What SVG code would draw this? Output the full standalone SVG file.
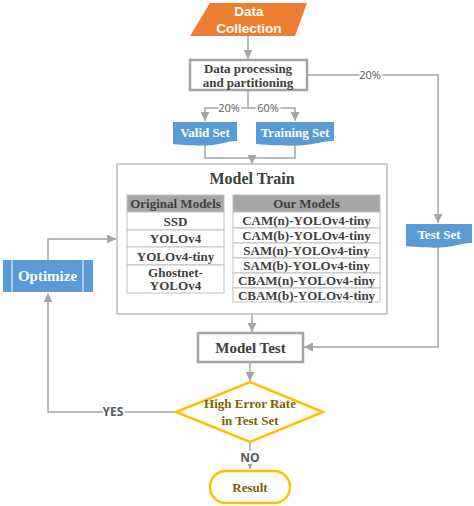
<svg xmlns="http://www.w3.org/2000/svg" width="474" height="506" viewBox="0 0 474 506">
<style>
.serif{font-family:"Liberation Serif","Times New Roman",serif;font-weight:bold;text-anchor:middle}
.dk{fill:#404040}
.wt{fill:#ffffff}
.br{fill:#7F6000}
.lbl{font-family:"Open Sans","Liberation Sans",sans-serif;font-size:11px;fill:#595959;text-anchor:middle;paint-order:stroke;stroke:#fff;stroke-width:4px}
.box{fill:#fff;stroke:#A5A5A5;stroke-width:2.5}
.cell{fill:#fff;stroke:#BFBFBF;stroke-width:1}
.hdr{fill:#A6A6A6;stroke:#BFBFBF;stroke-width:1}
.doc{fill:#5B9BD5}
.con{fill:none;stroke:#A5A5A5;stroke-width:1.5}
.dc{font-family:"Liberation Sans",Arial,sans-serif;font-weight:bold;font-size:13.5px;fill:#fff;text-anchor:middle}
</style>
<defs>
<marker id="ah" viewBox="0 0 10 10" refX="10" refY="5" markerWidth="9" markerHeight="9" markerUnits="userSpaceOnUse" orient="auto">
<path d="M0,0 L10,5 L0,10 z" fill="#A5A5A5"/>
</marker>
</defs>

<g id="connectors">
<path class="con" d="M248,36 V59" marker-end="url(#ah)"/>
<path class="con" d="M248,90 V108 H205 V121" marker-end="url(#ah)"/>
<path class="con" d="M248,108 H295 V121" marker-end="url(#ah)"/>
<path class="con" d="M307,75 H438 V223" marker-end="url(#ah)"/>
<path class="con" d="M205,144 V158 H295 V142"/>
<path class="con" d="M252,158 V164" marker-end="url(#ah)"/>
<path class="con" d="M252,314 V332" marker-end="url(#ah)"/>
<path class="con" d="M438,246 V347 H304" marker-end="url(#ah)"/>
<path class="con" d="M250,362 V381" marker-end="url(#ah)"/>
<path class="con" d="M250,442 V469" marker-end="url(#ah)"/>
<path class="con" d="M176,412 H48 V293" marker-end="url(#ah)"/>
<path class="con" d="M48,260 V239 H116" marker-end="url(#ah)"/>
<text class="lbl" x="229" y="112">20%</text>
<text class="lbl" x="268" y="112">60%</text>
<text class="lbl" x="370" y="79">20%</text>
<text class="lbl" x="250" y="462" style="font-weight:bold;font-size:12px">NO</text>
<text class="lbl" x="113" y="416" style="font-weight:bold;font-size:12px">YES</text>
</g>

<g id="data-collection">
<polygon points="210,3 307,3 295,36 190,36" fill="#ED7D31"/>
<text class="dc" x="249" y="16">Data</text>
<text class="dc" x="249" y="32.5">Collection</text>
</g>

<g id="data-processing">
<rect class="box" x="190" y="60" width="117" height="30"/>
<text class="serif dk" x="248" y="73" font-size="13">Data processing</text>
<text class="serif dk" x="248" y="87" font-size="13">and partitioning</text>
</g>

<g id="valid-set">
<path class="doc" d="M173,122 H237 V141 C221,141 221,149 173,144 Z"/>
<text class="serif wt" x="205" y="137" font-size="13">Valid Set</text>
</g>

<g id="training-set">
<path class="doc" d="M256,122 H334 V141 C315,141 315,149 256,144 Z"/>
<text class="serif wt" x="295" y="137" font-size="13">Training Set</text>
</g>

<g id="test-set">
<path class="doc" d="M406,224 H472 V243 C455,243 455,251 406,246 Z"/>
<text class="serif wt" x="439" y="239" font-size="13">Test Set</text>
</g>

<g id="model-train">
<rect x="117" y="164" width="270" height="150" fill="#fff" stroke="#BFBFBF" stroke-width="1.5"/>
<text class="serif dk" x="252" y="184" font-size="16">Model Train</text>
<rect class="hdr" x="127" y="195" width="97" height="17"/>
<text class="serif dk" x="175.5" y="208" font-size="13">Original Models</text>
<rect class="cell" x="127" y="212" width="97" height="18"/>
<text class="serif dk" x="175.5" y="225.5" font-size="13">SSD</text>
<rect class="cell" x="127" y="230" width="97" height="17"/>
<text class="serif dk" x="175.5" y="243" font-size="13">YOLOv4</text>
<rect class="cell" x="127" y="247" width="97" height="18"/>
<text class="serif dk" x="175.5" y="260.5" font-size="13">YOLOv4-tiny</text>
<rect class="cell" x="127" y="265" width="97" height="28"/>
<text class="serif dk" x="175.5" y="276.5" font-size="13">Ghostnet-</text>
<text class="serif dk" x="175.5" y="290" font-size="13">YOLOv4</text>
<rect class="hdr" x="233" y="195" width="147" height="17"/>
<text class="serif dk" x="306.5" y="208" font-size="13">Our Models</text>
<rect class="cell" x="233" y="212" width="147" height="16"/>
<text class="serif dk" x="306.5" y="224.5" font-size="13">CAM(n)-YOLOv4-tiny</text>
<rect class="cell" x="233" y="228" width="147" height="15"/>
<text class="serif dk" x="306.5" y="240" font-size="13">CAM(b)-YOLOv4-tiny</text>
<rect class="cell" x="233" y="243" width="147" height="15"/>
<text class="serif dk" x="306.5" y="255" font-size="13">SAM(n)-YOLOv4-tiny</text>
<rect class="cell" x="233" y="258" width="147" height="15"/>
<text class="serif dk" x="306.5" y="270" font-size="13">SAM(b)-YOLOv4-tiny</text>
<rect class="cell" x="233" y="273" width="147" height="15"/>
<text class="serif dk" x="306.5" y="285" font-size="13">CBAM(n)-YOLOv4-tiny</text>
<rect class="cell" x="233" y="288" width="147" height="14"/>
<text class="serif dk" x="306.5" y="299.5" font-size="13">CBAM(b)-YOLOv4-tiny</text>
</g>

<g id="optimize">
<rect x="3" y="260" width="90" height="32" fill="#5B9BD5"/>
<line x1="12" y1="260" x2="12" y2="292" stroke="#fff" stroke-width="1"/>
<line x1="83" y1="260" x2="83" y2="292" stroke="#fff" stroke-width="1"/>
<text class="serif wt" x="47.5" y="281" font-size="15">Optimize</text>
</g>

<g id="model-test">
<rect class="box" x="198" y="333" width="105" height="29"/>
<text class="serif dk" x="250.5" y="352.5" font-size="15">Model Test</text>
</g>

<g id="decision">
<polygon points="250,382 323,412 250,442 176,412" fill="#fff" stroke="#FFC000" stroke-width="2.5"/>
<text class="serif br" x="250" y="408" font-size="13">High Error Rate</text>
<text class="serif br" x="250" y="425" font-size="13">in Test Set</text>
</g>

<g id="result">
<rect x="210" y="471" width="80" height="32" rx="16" fill="#fff" stroke="#FFC000" stroke-width="2.5"/>
<text class="serif br" x="250" y="492" font-size="13">Result</text>
</g>
</svg>
